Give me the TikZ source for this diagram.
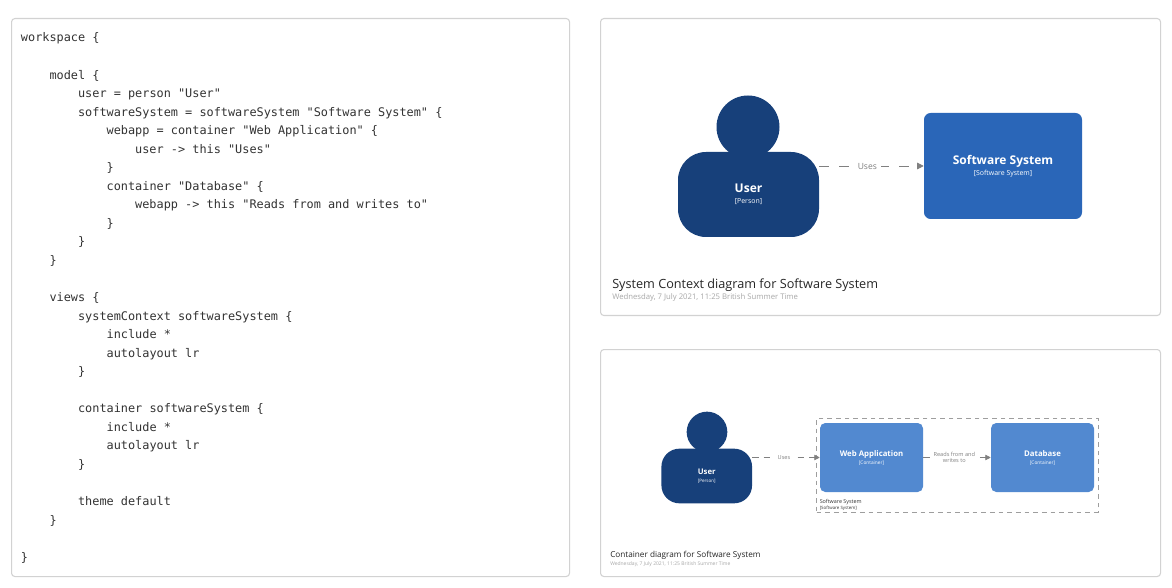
\documentclass[tikz,border=0pt]{standalone}
\usepackage{fontspec}
\setmainfont{Open Sans}
\newfontfamily\codefont{DejaVu Sans Mono}
\usetikzlibrary{arrows.meta}
\definecolor{personblue}{HTML}{17407A}
\definecolor{sysblue}{HTML}{2A66B8}
\definecolor{contblue}{HTML}{5289D0}
\definecolor{panelline}{HTML}{D2D2D2}
\definecolor{codetext}{HTML}{333333}
\definecolor{linkgray}{HTML}{808080}
\definecolor{capgray}{HTML}{A8A8A8}
\tikzset{
  panel/.style={draw=panelline,line width=0.8pt,fill=white,rounded corners=2.5pt},
  codeline/.style={anchor=base west,inner sep=0pt,text=codetext,font=\codefont\fontsize{8.9}{10}\selectfont},
  boxbase/.style={inner sep=0pt,text=white,align=center},
  bigperson/.style={boxbase,fill=personblue,rounded corners=21pt,minimum width=105.75pt,minimum height=63.75pt},
  smallperson/.style={boxbase,fill=personblue,rounded corners=13.5pt,minimum width=68pt,minimum height=41pt},
  bighead/.style={circle,fill=personblue,inner sep=0pt,minimum size=47.25pt},
  smallhead/.style={circle,fill=personblue,inner sep=0pt,minimum size=30.5pt},
  sysbox/.style={boxbase,fill=sysblue,rounded corners=5pt,minimum width=118.5pt,minimum height=79.5pt},
  contbox/.style={boxbase,fill=contblue,rounded corners=4pt,minimum width=77.25pt,minimum height=51.75pt},
  boundary/.style={draw=black!38,dash pattern=on 3.5pt off 3pt,line width=0.6pt,minimum width=211pt,minimum height=70.5pt,inner sep=0pt},
  link/.style={draw=linkgray,line width=0.6pt,dash pattern=on 7.5pt off 7.5pt,-{Triangle[length=5pt,width=5pt,fill=linkgray]}},
  smalllink/.style={draw=linkgray,line width=0.5pt,dash pattern=on 5pt off 3.5pt,-{Triangle[length=4pt,width=4pt,fill=linkgray]}},
  linklabel/.style={fill=white,inner sep=3pt,text=linkgray,align=center},
  captitle/.style={anchor=base west,inner sep=0pt,text=black!85},
  capdate/.style={anchor=base west,inner sep=0pt,text=capgray}
}
\newcommand{\fs}[1]{\fontsize{#1}{#1}\selectfont}
\begin{document}
\begin{tikzpicture}[x=0.75pt,y=-0.75pt]
\useasboundingbox (0,0) rectangle (1172,588);
\node[panel,anchor=north west,minimum width=418.5pt,minimum height=418.5pt,inner sep=0pt] (codepanel) at (11,18) {};
\node[panel,anchor=north west,minimum width=420pt,minimum height=222.75pt,inner sep=0pt] (ctxpanel) at (600,18) {};
\node[panel,anchor=north west,minimum width=420pt,minimum height=170.25pt,inner sep=0pt] (contpanel) at (600,349) {};
% code
\foreach \ln/\ind/\txt in {
 0/0/{workspace \{},
 2/4/{model \{},
 3/8/{user = person "User"},
 4/8/{softwareSystem = softwareSystem "Software System" \{},
 5/12/{webapp = container "Web Application" \{},
 6/16/{user -> this "Uses"},
 7/12/{\}},
 8/12/{container "Database" \{},
 9/16/{webapp -> this "Reads from and writes to"},
 10/12/{\}},
 11/8/{\}},
 12/4/{\}},
 14/4/{views \{},
 15/8/{systemContext softwareSystem \{},
 16/12/{include *},
 17/12/{autolayout lr},
 18/8/{\}},
 20/8/{container softwareSystem \{},
 21/12/{include *},
 22/12/{autolayout lr},
 23/8/{\}},
 25/8/{theme default},
 26/4/{\}},
 28/0/{\}}}
{
  \node[codeline] (code\ln) at ({20.7+7.14*\ind},{42+18.54*\ln}) {\txt};
}
% context diagram
\node[bighead] (head1) at (748,127) {};
\node[bigperson] (user1) at (748.5,194.5) {{\fs{9}\bfseries User}\\[-4pt]{\fs{5.2}[Person]}};
\node[sysbox] (sys1) at (1003,166) {{\fs{9}\bfseries Software System}\\[-4pt]{\fs{5.2}[Software System]}};
\draw[link] (user1.east |- sys1.west) -- node[linklabel,font=\fs{6.4},pos=0.46] (uses1) {Uses} (sys1.west);
\node[captitle,font=\fs{9.5}] (title1) at (612,288) {System Context diagram for Software System};
\node[capdate,font=\fs{5.8}] (date1) at (612,300) {Wednesday, 7 July 2021, 11:25 British Summer Time};
% container diagram
\node[boundary] (bound) at (957.25,465) {};
\node[smallhead] (head2) at (707,432) {};
\node[smallperson] (user2) at (706.75,476) {{\fs{5.8}\bfseries User}\\[-5.5pt]{\fs{3.4}[Person]}};
\node[contbox] (web) at (871.5,457.5) {{\fs{5.85}\bfseries Web Application}\\[-6pt]{\fs{3.6}[Container]}};
\node[contbox] (db) at (1042.5,457.5) {{\fs{5.85}\bfseries Database}\\[-6pt]{\fs{3.6}[Container]}};
\draw[smalllink] (user2.east |- web.west) -- node[linklabel,font=\fs{4.2},pos=0.47] (uses2) {Uses} (web.west);
\draw[smalllink] (web.east) -- node[linklabel,font=\fs{4.2},inner sep=2pt,pos=0.46] (reads) {Reads from and\\[0.5pt]writes to} (db.west);
\node[anchor=base west,inner sep=0pt,text=black!80,font=\fs{4.05}] (boundname) at (819.5,503.5) {Software System};
\node[anchor=base west,inner sep=0pt,text=black!80,font=\fs{3.3}] (boundtype) at (819.5,509) {[Software System]};
\node[captitle,font=\fs{6.15}] (title2) at (610,557) {Container diagram for Software System};
\node[capdate,font=\fs{3.75}] (date2) at (610,565) {Wednesday, 7 July 2021, 11:25 British Summer Time};
\end{tikzpicture}
\end{document}
